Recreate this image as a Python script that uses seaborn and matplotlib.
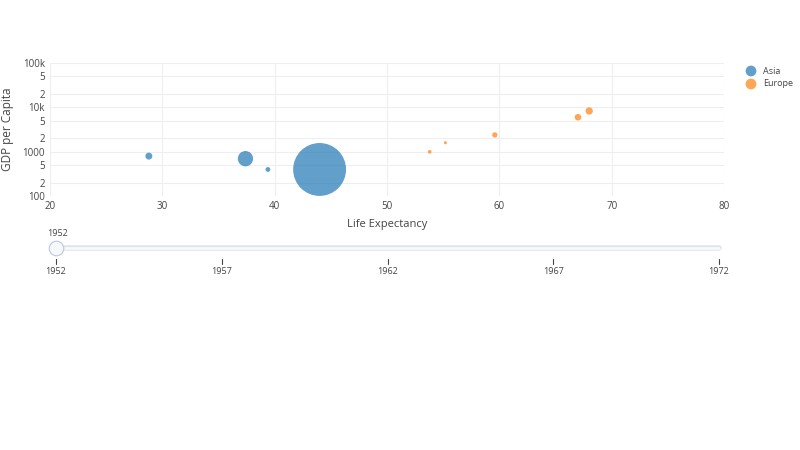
import matplotlib
matplotlib.use("Agg")
import matplotlib.pyplot as plt
import seaborn as sns
import pandas as pd
import numpy as np

continent = ["Asia", "Asia", "Asia", "Asia", "Europe", "Europe", "Europe", "Europe", "Europe"]
life_exp = [28.8, 37.4, 39.4, 44.0, 53.8, 55.2, 59.6, 67.0, 68.0]
gdp = [800, 700, 400, 400, 1000, 1600, 2400, 6000, 8300]
pop = [8, 45, 3, 556, 1, 0.3, 4, 7, 9]
years = [1952, 1957, 1962, 1967, 1972]

sns.set_style("white")
plt.rcParams['font.family'] = ['Open Sans', 'DejaVu Sans']
df = pd.DataFrame(dict(continent=continent, life=life_exp, gdp=gdp, pop=pop))

fig = plt.figure(figsize=(8, 4.5), dpi=100)
ax = fig.add_axes([0.0625, 0.564, 0.8425, 0.296])
pal = {"Asia": "#1f77b4", "Europe": "#ff7f0e"}
sns.scatterplot(data=df, x="life", y="gdp", hue="continent", size="pop", sizes=(5, 1450),
                palette=pal, alpha=0.7, edgecolor="none", ax=ax, legend=False)
ax.set_yscale("log")
ax.set_xlim(20, 80)
ax.set_ylim(100, 100000)
ax.set_xticks([20, 30, 40, 50, 60, 70, 80])
yt = [100, 200, 500, 1000, 2000, 5000, 10000, 20000, 50000, 100000]
ax.set_yticks(yt)
ax.set_yticklabels(["100", "2", "5", "1000", "2", "5", "10k", "2", "5", "100k"])
ax.yaxis.set_minor_locator(matplotlib.ticker.NullLocator())
ax.tick_params(labelsize=7, colors="#444444", length=0)
ax.grid(True, color="#eeeeee", lw=0.8)
for s in ax.spines.values():
    s.set_visible(False)
ax.set_xlabel("")
ax.set_ylabel("GDP per Capita", fontsize=8.5, color="#444444", labelpad=6)

# overlay in pixel coords
ov = fig.add_axes([0, 0, 1, 1])
ov.set_xlim(0, 800)
ov.set_ylim(450, 0)
ov.axis("off")
ov.patch.set_alpha(0)
ov.text(387, 224, "Life Expectancy", fontsize=8, color="#444444", ha="center", va="center")

for i, c in enumerate(["Asia", "Europe"]):
    ov.scatter([751], [71 + i * 13], s=60, color=pal[c], alpha=0.7, edgecolor="none")
    ov.text(763, 71 + i * 13, c, fontsize=6.5, color="#444444", va="center")

def xpix(y):
    return 56 + (y - 1952) / 20 * (719 - 56)

ov.plot([56, 719], [248, 248], color="#dfe4ec", lw=4, solid_capstyle="round", zorder=1)
ov.plot([56, 719], [248, 248], color="#f6f8fa", lw=2, solid_capstyle="round", zorder=1)
ov.scatter([xpix(1952)], [248], s=110, color="#f6f8fa", edgecolor="#bec8d9", lw=0.8, zorder=2)
ov.text(58, 233, "1952", fontsize=6.5, color="#444444", ha="center", va="center")
for y in years:
    ov.plot([xpix(y), xpix(y)], [259, 264], color="#444444", lw=0.8)
    ov.text(xpix(y), 271, str(y), fontsize=6.5, color="#444444", ha="center", va="center")

fig.savefig("out.png", dpi=100)
